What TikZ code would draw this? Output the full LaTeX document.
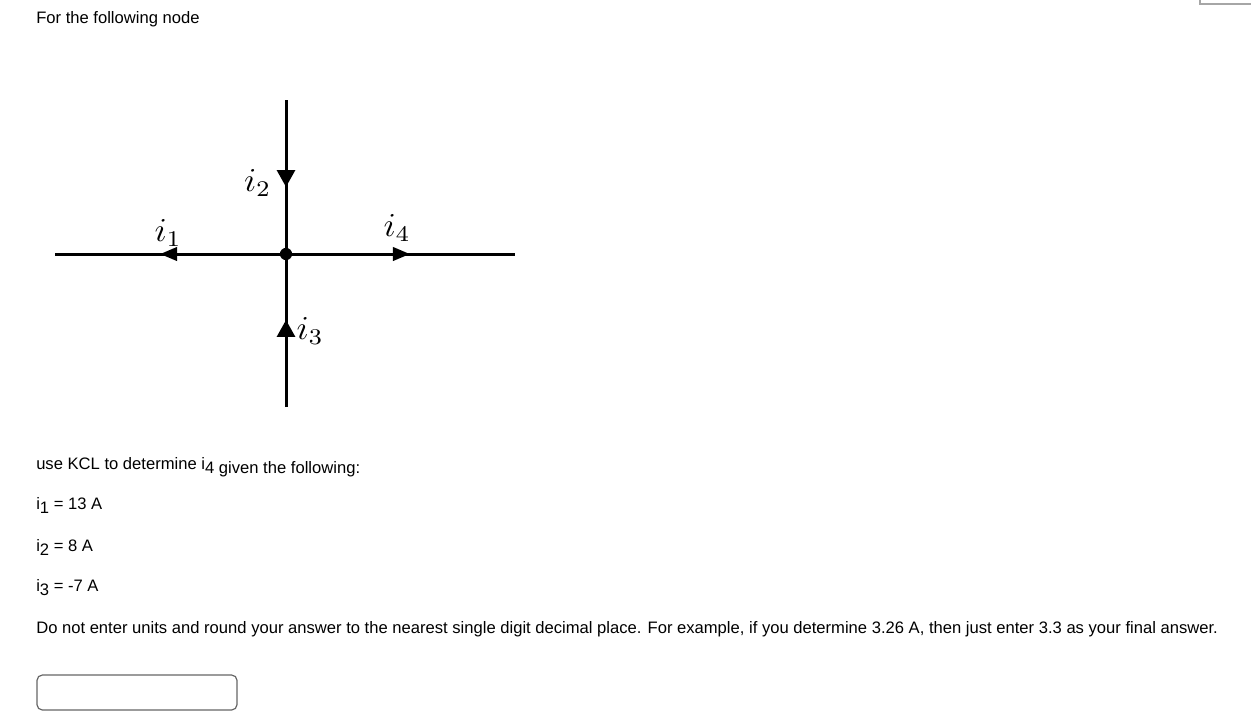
\documentclass[tikz,border=0pt]{standalone}
\usepackage{graphicx}
\usepackage{fontspec}
\setmainfont{Liberation Sans}
\usetikzlibrary{arrows.meta,decorations.markings}
\newcommand{\lowsub}[1]{\raisebox{-3pt}{#1}}
\newcommand{\curlbl}[1]{\scalebox{2.3}[2.1]{$#1$}}
\tikzset{
  wire/.style={line width=2.25pt},
  current/.style 2 args={postaction={decorate,decoration={markings,
      mark=at position #1 with {\arrow{Triangle[length=12.75pt,width=#2]}}}}},
  lbl/.style={inner sep=0pt,font=\fontsize{12}{14}\selectfont},
  txt/.style={anchor=base west,inner sep=0pt,font=\fontsize{12.45}{14}\selectfont}
}
\begin{document}
\begin{tikzpicture}[x=0.75pt,y=-0.75pt]
\useasboundingbox (0,0) rectangle (1251,726);
\node[txt] (title) at (36,23) {For the following node};
% the node
\node[circle,fill,inner sep=0pt,minimum size=9.2pt] (o) at (286,254) {};
\coordinate (e1) at (55,254);
\coordinate (e2) at (286,100);
\coordinate (e3) at (286,407);
\coordinate (e4) at (515,254);
\draw[wire,current={0.545}{10pt}](o.center)--(e1);
\draw[wire,current={0.565}{13.5pt}](e2)--(o.center);
\draw[wire,current={0.569}{13.5pt}](e3)--(o.center);
\draw[wire,current={0.541}{10pt}](o.center)--(e4);
\node[lbl] (l1) at (168,232.5) {\curlbl{i_1}};
\node[lbl] (l2) at (257.5,182.5) {\curlbl{i_2}};
\node[lbl] (l3) at (310,331) {\curlbl{i_3}};
\node[lbl] (l4) at (397,227.5) {\curlbl{i_4}};
% question
\node[txt] (ask) at (36,469) {use KCL to determine i\lowsub{4 given the following:}};
\node[txt] (g1) at (36,509) {i\lowsub{1} = 13 A};
\node[txt] (g2) at (36,551) {i\lowsub{2} = 8 A};
\node[txt] (g3) at (36,591) {i\lowsub{3} = -7 A};
\node[txt] (note) at (36,633) {Do not enter units and round your answer to the nearest single digit decimal place. For example, if you determine 3.26 A, then just enter 3.3 as your final answer.};
\draw[black!60,line width=0.9pt,rounded corners=4pt] (37,675) rectangle (237,710);
\draw[black!35,line width=0.9pt] (1200,0)--(1200,4)--(1251,4);
\end{tikzpicture}
\end{document}
